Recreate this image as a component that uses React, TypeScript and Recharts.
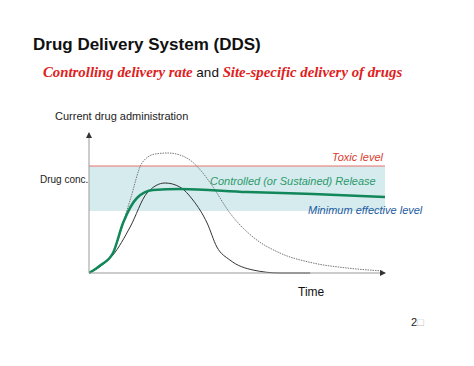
import { LineChart, Line, XAxis, YAxis, ReferenceArea, ReferenceLine } from 'recharts';

// time 0..100, concentration in arbitrary units (0..140)
const conventionalHigh = [
  { t: 0, c: 0 }, { t: 4, c: 8 }, { t: 8.1, c: 20 }, { t: 13.9, c: 73 }, { t: 17.9, c: 110 },
  { t: 22.3, c: 119 }, { t: 26.7, c: 120 }, { t: 30.7, c: 118 }, { t: 34.1, c: 113 },
  { t: 38.2, c: 101 }, { t: 41.9, c: 86 }, { t: 47.6, c: 60 }, { t: 55.4, c: 36 },
  { t: 64.5, c: 20 }, { t: 75.7, c: 10 }, { t: 87.2, c: 5 }, { t: 99.3, c: 2 },
];
const conventionalLow = [
  { t: 0, c: 0 }, { t: 4, c: 7 }, { t: 8.1, c: 18 }, { t: 13.9, c: 46 }, { t: 19.6, c: 80 },
  { t: 25.7, c: 90 }, { t: 30.7, c: 86 }, { t: 35.1, c: 73 }, { t: 39.9, c: 50 },
  { t: 43.2, c: 26 }, { t: 47.6, c: 13 }, { t: 55.4, c: 3 }, { t: 64.5, c: 0 }, { t: 74.7, c: 0 },
];
const controlled = [
  { t: 0, c: 0 }, { t: 4, c: 8 }, { t: 8.1, c: 20 }, { t: 11.5, c: 50 }, { t: 16.2, c: 75 },
  { t: 21.6, c: 83 }, { t: 30.7, c: 84 }, { t: 53.4, c: 81 }, { t: 75.7, c: 79 }, { t: 100, c: 76 },
];
const toxicLevel = 107;
const minEffectiveLevel = 62;

const sans = 'Liberation Sans, Arial, sans-serif';
const serif = 'Liberation Serif, Georgia, serif';

export default function App() {
  return (
    <div style={{ position: 'fixed', left: 0, top: 0, width: 474, height: 366, background: '#fff', fontFamily: sans }}>
      <div style={{ position: 'absolute', left: 33, top: 35, fontSize: 17, fontWeight: 'bold', color: '#111' }}>
        Drug Delivery System (DDS)
      </div>
      <div style={{ position: 'absolute', left: 43, top: 64, fontSize: 14.8, whiteSpace: 'nowrap' }}>
        <span style={{ fontFamily: serif, fontStyle: 'italic', fontWeight: 'bold', color: '#e02020' }}>Controlling delivery rate</span>
        <span style={{ fontFamily: sans, color: '#111', fontSize: 13.5 }}> and </span>
        <span style={{ fontFamily: serif, fontStyle: 'italic', fontWeight: 'bold', color: '#e02020' }}>Site-specific delivery of drugs</span>
      </div>
      <div style={{ position: 'absolute', left: 55, top: 110, fontSize: 11, color: '#222' }}>Current drug administration</div>
      <div style={{ position: 'absolute', left: 40, top: 174, fontSize: 10, color: '#222' }}>Drug conc.</div>

      <LineChart width={474} height={366} data={controlled} margin={{ top: 133, left: 88, right: 89, bottom: 92 }}
        style={{ position: 'absolute', left: 0, top: 0 }}>
        <defs>
          <marker id="arr" viewBox="0 0 6 6" refX="5" refY="3" markerWidth="6" markerHeight="6" orient="auto-start-reverse">
            <path d="M0,0 L6,3 L0,6 z" fill="#333" />
          </marker>
        </defs>
        <ReferenceArea y1={minEffectiveLevel} y2={toxicLevel} fill="#d6ebee" fillOpacity={1} stroke="none" />
        <ReferenceLine y={toxicLevel} stroke="#e8706a" strokeWidth={1} />
        <XAxis dataKey="t" type="number" domain={[0, 100]} tick={false} tickLine={false} height={1}
          axisLine={{ stroke: '#999', markerEnd: 'url(#arr)' }} allowDataOverflow />
        <YAxis type="number" domain={[0, 140]} tick={false} tickLine={false} width={1}
          axisLine={{ stroke: '#999', markerStart: 'url(#arr)' }} />
        <Line data={conventionalHigh} dataKey="c" type="monotone" stroke="#777" strokeWidth={1}
          strokeDasharray="1.5 1" dot={false} isAnimationActive={false} />
        <Line data={conventionalLow} dataKey="c" type="monotone" stroke="#333" strokeWidth={1}
          dot={false} isAnimationActive={false} />
        <Line data={controlled} dataKey="c" type="monotone" stroke="#11875a" strokeWidth={2.5}
          dot={false} isAnimationActive={false} />
      </LineChart>

      <div style={{ position: 'absolute', right: 91, top: 151, fontSize: 11, fontStyle: 'italic', color: '#d83a30' }}>Toxic level</div>
      <div style={{ position: 'absolute', left: 210, top: 175, fontSize: 11, fontStyle: 'italic', color: '#2a9a6a' }}>Controlled (or Sustained) Release</div>
      <div style={{ position: 'absolute', left: 308, top: 204, fontSize: 11, fontStyle: 'italic', color: '#1c5aa0' }}>Minimum effective level</div>
      <div style={{ position: 'absolute', left: 298, top: 285, fontSize: 12, color: '#111' }}>Time</div>
      <div style={{ position: 'absolute', left: 411, top: 316, fontSize: 11, color: '#222' }}>2<span style={{ color: '#bbb' }}>□</span></div>
    </div>
  );
}
